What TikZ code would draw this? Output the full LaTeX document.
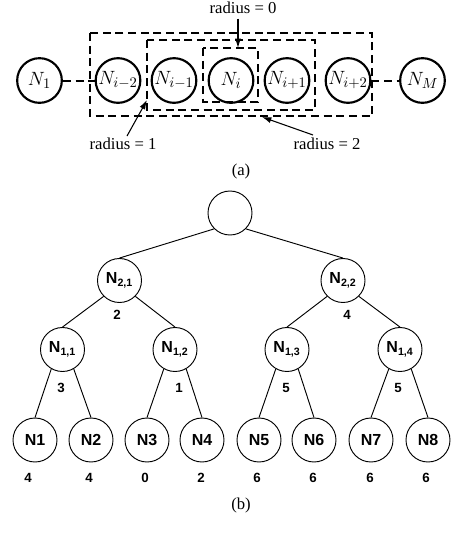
\documentclass[tikz,border=0pt]{standalone}
\usepackage{fontspec}
\setmainfont{Liberation Serif}
\setsansfont{Liberation Sans}
\usetikzlibrary{arrows.meta}
\begin{document}
\begin{tikzpicture}[x=0.75pt, y=-0.75pt,
  unit/.style={circle, draw, line width=1.6pt, minimum size=33.5pt, inner sep=0pt, font=\fontsize{15}{17}\selectfont},
  tnode/.style={circle, draw, line width=0.7pt, minimum size=33pt, inner sep=0pt, font=\sffamily\bfseries\fontsize{12}{14}\selectfont},
  wt/.style={font=\sffamily\bfseries\fontsize{10}{12}\selectfont},
  nbox/.style={line width=1.2pt, dash pattern=on 6pt off 3.5pt},
  lbl/.style={font=\fontsize{12.5}{14}\selectfont},
  pt/.style={-{Latex[length=7pt,width=4.5pt]}, line width=0.8pt}]
  \useasboundingbox (0,0) rectangle (474,533);
  % (a) one-dimensional neighbourhood
  \node[unit] (n1) at (39.5,80.5) {$N_1$};
  \node[unit] (nim2) at (118,80.5) {$N_{i-2}$};
  \node[unit] (nim1) at (174,80.5) {$N_{i-1}$};
  \node[unit] (ni) at (231,80.5) {$N_i$};
  \node[unit] (nip1) at (287,80.5) {$N_{i+1}$};
  \node[unit] (nip2) at (348,80.5) {$N_{i+2}$};
  \node[unit] (nm) at (422.5,80.5) {$N_M$};
  \draw[nbox, line width=1.5pt] (n1) -- (nim2);
  \draw[nbox, line width=1.5pt] (nip2) -- (nm);
  \draw[nbox] (90,33) rectangle (372,116);
  \draw[nbox] (147,40) rectangle (315,110);
  \draw[nbox] (203,48) rectangle (258,102);
  \node[lbl] (r0) at (243,8) {radius = 0};
  \node[lbl] (r1) at (123,144) {radius = 1};
  \node[lbl] (r2) at (327,144) {radius = 2};
  \coordinate (t0) at (238,48);
  \coordinate (t1) at (147,100);
  \coordinate (t2) at (262,117);
  \draw[pt] (r0.south -| t0) -- (t0);
  \draw[pt] (127,136) -- (t1);
  \draw[pt] (313,135) -- (t2);
  \node[lbl] (capa) at (241,171) {(a)};
  % (b) binary tree
  \node[tnode] (root) at (230,213) {};
  \node[tnode] (n21) at (119.5,280.5) {N\textsubscript{2,1}};
  \node[tnode] (n22) at (343,280.5) {N\textsubscript{2,2}};
  \node[tnode] (n11) at (62.5,349.5) {N\textsubscript{1,1}};
  \node[tnode] (n12) at (175,349.5) {N\textsubscript{1,2}};
  \node[tnode] (n13) at (287,349.5) {N\textsubscript{1,3}};
  \node[tnode] (n14) at (400,349.5) {N\textsubscript{1,4}};
  \node[tnode] (l1) at (35,440) {N1};
  \node[tnode] (l2) at (91,440) {N2};
  \node[tnode] (l3) at (147,440) {N3};
  \node[tnode] (l4) at (202,440) {N4};
  \node[tnode] (l5) at (259,440) {N5};
  \node[tnode] (l6) at (314,440) {N6};
  \node[tnode] (l7) at (371,440) {N7};
  \node[tnode] (l8) at (428,440) {N8};
  \draw[line width=0.7pt] (root.225) -- (n21.north) (root.315) -- (n22.north)
    (n21.225) -- (n11.north) (n21.315) -- (n12.north)
    (n22.225) -- (n13.north) (n22.315) -- (n14.north)
    (n11.240) -- (l1.north) (n11.300) -- (l2.north)
    (n12.240) -- (l3.north) (n12.300) -- (l4.north)
    (n13.240) -- (l5.north) (n13.300) -- (l6.north)
    (n14.240) -- (l7.north) (n14.300) -- (l8.north);
  \node[wt] (w21) at (117,315) {2};
  \node[wt] (w22) at (347,315) {4};
  \node[wt] (w11) at (61,388) {3};
  \node[wt] (w12) at (179,388) {1};
  \node[wt] (w13) at (286,388) {5};
  \node[wt] (w14) at (398,388) {5};
  \node[wt] (v1) at (28,478) {4};
  \node[wt] (v2) at (89,478) {4};
  \node[wt] (v3) at (145,478) {0};
  \node[wt] (v4) at (201,478) {2};
  \node[wt] (v5) at (257,478) {6};
  \node[wt] (v6) at (313,478) {6};
  \node[wt] (v7) at (370,478) {6};
  \node[wt] (v8) at (426,478) {6};
  \node[lbl] (capb) at (241,505) {(b)};
\end{tikzpicture}
\end{document}
